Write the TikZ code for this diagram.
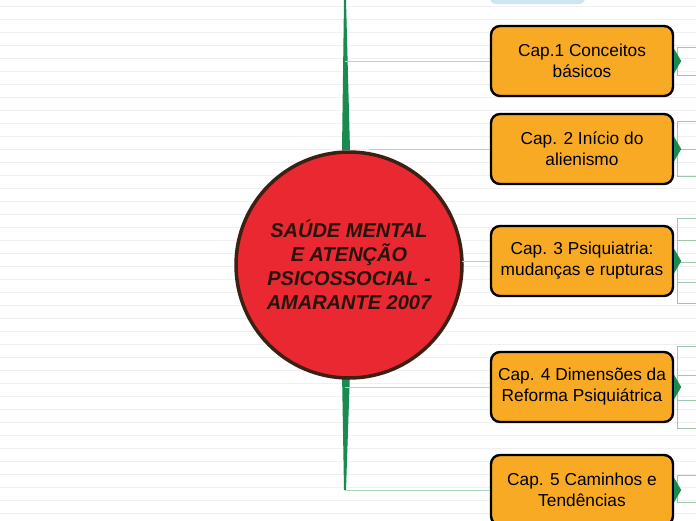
\documentclass[tikz,border=0pt]{standalone}
\usepackage{fontspec}
\setmainfont{Liberation Sans}
\definecolor{caporange}{HTML}{F8AA24}
\definecolor{mainred}{HTML}{E92832}
\definecolor{rimbrown}{HTML}{3D2014}
\definecolor{branchgreen}{HTML}{1A8A50}
\definecolor{linkgreen}{HTML}{A9D8BC}
\definecolor{topblue}{HTML}{CFE6F0}
\tikzset{
	capbox/.style={draw=black,fill=caporange,line width=2.4pt,rounded corners=9pt,
		minimum width=182pt,minimum height=70pt,align=center,font=\fontsize{17.3}{21}\selectfont},
	link/.style={draw=linkgreen,line width=1pt},
	sublink/.style={draw=linkgreen!80!gray,line width=0.8pt},
	tip/.style={fill=branchgreen,draw=none}
}
\begin{document}
\begin{tikzpicture}[x=1pt,y=-1pt]
		\useasboundingbox (0,0) rectangle (696,520);
		\fill[white] (0,0) rectangle (696,520);

		% faint ruling of the page
		\foreach \yy in {6,19,...,520}
				\draw[black!6,line width=0.6pt] (0,\yy) -- (696,\yy);

		\fill[topblue,rounded corners=6pt] (490,-10) rectangle (585,4);

		% trunk
		\fill[branchgreen] (344,0) -- (346,0) -- (350,150) -- (342,150) -- cycle;
		\fill[branchgreen] (342,372) -- (350,372) -- (346,490) -- (344,490) -- cycle;

		\node[circle,draw=rimbrown,fill=mainred,line width=3.5pt,minimum size=226pt,inner sep=0pt,
			align=center,font=\fontsize{20}{24}\selectfont\bfseries\itshape,text=rimbrown!60!black]
			(center) at (349,265) {SAÚDE MENTAL\\E ATENÇÃO\\PSICOSSOCIAL -\\AMARANTE 2007};

		\node[capbox] (cap1) at (582,61) {Cap.1 Conceitos\\básicos};
		\node[capbox] (cap2) at (582,149) {Cap. 2 Início do\\alienismo};
		\node[capbox] (cap3) at (582,261) {Cap. 3 Psiquiatria:\\mudanças e rupturas};
		\node[capbox] (cap4) at (582,387) {Cap. 4 Dimensões da\\Reforma Psiquiátrica};
		\node[capbox] (cap5) at (582,490) {Cap. 5 Caminhos e\\Tendências};

		\coordinate (t1) at (345,61);
		\coordinate (t2) at (370,149);
		\coordinate (t3) at (462,261);
		\coordinate (t4) at (345,387);
		\coordinate (t5) at (345,490);
		\draw[link] (t1) -- (cap1.west);
		\draw[link] (t2) -- (cap2.west);
		\draw[link] (t3) -- (cap3.west);
		\draw[link] (t4) -- (cap4.west);
		\draw[link] (t5) -- (cap5.west);

		% right side sub-branches
		\draw[sublink] (677,47) -- (677,75) (677,47) -- (696,47) (677,75) -- (696,75);
		\draw[sublink] (677,121) -- (677,176) (677,121) -- (696,121) (677,149) -- (696,149) (677,176) -- (696,176);
		\draw[sublink] (677,218) -- (677,303) \foreach \yy in {218,240,262,282,303}{(677,\yy) -- (696,\yy)};
		\draw[sublink] (677,346) -- (677,428) \foreach \yy in {346,375,400,428}{(677,\yy) -- (696,\yy)};
		\draw[sublink] (677,475) -- (677,502) (677,475) -- (696,475) (677,502) -- (696,502);
		\foreach \cc in {cap1,cap2,cap3,cap4,cap5}
				\fill[tip] ([yshift=12pt]\cc.east) -- ([xshift=7pt]\cc.east) -- ([yshift=-12pt]\cc.east) -- cycle;
\end{tikzpicture}
\end{document}
